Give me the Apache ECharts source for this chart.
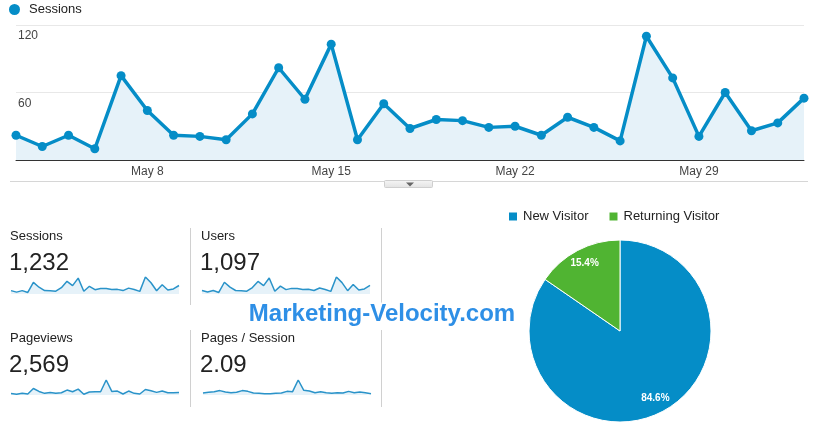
<!DOCTYPE html>
<html>
<head>
    <meta charset="utf-8">
    <title>Audience Overview</title>
    <script src="https://cdn.jsdelivr.net/npm/echarts@6/dist/echarts.min.js"></script>
    <style>
        html, body { margin: 0; padding: 0; background: #fff; }
    </style>
</head>
<body>
<div id="main" style="width: 813px;height:427px;"></div>
<script type="text/javascript">
    // daily data, May 3 - Jun 2
    var days = ['May 3', 'May 4', 'May 5', 'May 6', 'May 7', 'May 8', 'May 9', 'May 10',
        'May 11', 'May 12', 'May 13', 'May 14', 'May 15', 'May 16', 'May 17', 'May 18',
        'May 19', 'May 20', 'May 21', 'May 22', 'May 23', 'May 24', 'May 25', 'May 26',
        'May 27', 'May 28', 'May 29', 'May 30', 'May 31', 'Jun 1', 'Jun 2'];
    var sessions = [22, 12, 22, 10, 75, 44, 22, 21, 18, 41, 82, 54, 103, 18, 50, 28,
        36, 35, 29, 30, 22, 38, 29, 17, 110, 73, 21, 60, 26, 33, 55];
    var users = [20, 11, 20, 9, 67, 39, 20, 19, 16, 37, 72, 48, 91, 16, 45, 25,
        32, 31, 26, 27, 20, 34, 26, 15, 97, 65, 19, 54, 23, 29, 49];
    var pageviews = [40, 18, 42, 25, 165, 90, 42, 66, 42, 58, 125, 83, 150, 18, 75, 83,
        83, 380, 91, 100, 25, 100, 42, 25, 140, 108, 66, 100, 58, 58, 66];
    var pagesPerSession = [1.3, 1.8, 2.2, 2.9, 2.0, 1.5, 1.8, 2.9, 2.4, 1.3, 1.1, 0.9, 0.9, 1.1, 1.3, 2.4,
        2.2, 9.9, 3.1, 2.6, 1.5, 2.2, 1.5, 1.1, 1.5, 1.3, 2.4, 1.5, 2.0, 1.5, 0.9];

    var kpiNames = ['Sessions', 'Users', 'Pageviews', 'Pages / Session'];
    var kpiValues = ['1,232', '1,097', '2,569', '2.09'];

    var visitorTypes = ['New Visitor', 'Returning Visitor'];
    var visitorShare = [84.6, 15.4];

    var BLUE = '#058dc7';
    var GREEN = '#50b432';
    var FILL = '#e6f2f9';
    var FONT = 'Arial, "Liberation Sans", Helvetica, sans-serif';

    var myChart = echarts.init(document.getElementById('main'));

    // sparkline boxes: [left, top, height]
    var sparkBoxes = [[11, 277, 17], [202, 277, 17], [11, 380, 15], [203, 380, 15]];
    var sparkData = [sessions, users, pageviews, pagesPerSession];

    var grids = [{left: 16, right: 9, top: 25, height: 135}];
    var xAxes = [{
        type: 'category',
        gridIndex: 0,
        data: days,
        boundaryGap: false,
        axisTick: {show: false},
        axisLine: {lineStyle: {color: '#333', width: 1}},
        axisLabel: {
            interval: function (i) { return i % 7 === 5; },
            color: '#444', fontSize: 12, fontFamily: FONT, margin: 6
        }
    }];
    var yAxes = [{
        type: 'value',
        gridIndex: 0,
        min: 0, max: 120, interval: 60,
        axisLine: {show: false},
        axisTick: {show: false},
        splitLine: {lineStyle: {color: '#e8e8e8'}},
        axisLabel: {
            inside: true, showMinLabel: false, margin: 2,
            verticalAlign: 'top', padding: [5, 0, 0, 0],
            color: '#444', fontSize: 12, fontFamily: FONT
        }
    }];
    var series = [{
        name: 'Sessions',
        type: 'line',
        xAxisIndex: 0, yAxisIndex: 0,
        data: sessions,
        symbol: 'circle',
        symbolSize: 9,
        itemStyle: {color: BLUE},
        lineStyle: {color: BLUE, width: 3.5},
        areaStyle: {color: FILL, opacity: 1}
    }];

    sparkBoxes.forEach(function (b, i) {
        grids.push({left: b[0], width: 168, top: b[1], height: b[2]});
        xAxes.push({type: 'category', gridIndex: i + 1, data: days, boundaryGap: false, show: false});
        yAxes.push({type: 'value', gridIndex: i + 1, min: 0, max: 'dataMax', show: false, splitLine: {show: false}});
        series.push({
            name: kpiNames[i] + ' trend',
            type: 'line',
            xAxisIndex: i + 1, yAxisIndex: i + 1,
            data: sparkData[i],
            symbol: 'none',
            silent: true,
            lineStyle: {color: '#2a93c9', width: 1.5},
            areaStyle: {color: FILL, opacity: 1}
        });
    });

    var pieData = visitorTypes.map(function (n, i) {
        return {name: n, value: visitorShare[i], itemStyle: {color: i === 0 ? BLUE : GREEN}};
    });

    series.push({
        name: 'Visitor type',
        type: 'pie',
        center: [620, 331],
        radius: 91,
        startAngle: 90,
        clockwise: true,
        label: {show: false},
        labelLine: {show: false},
        itemStyle: {borderColor: '#fff', borderWidth: 1},
        data: pieData
    });
    // transparent ring only used to place the percent labels further out
    series.push({
        name: 'Visitor type labels',
        type: 'pie',
        center: [620, 331],
        radius: [55, 91],
        startAngle: 90,
        clockwise: true,
        silent: true,
        emphasis: {disabled: true},
        itemStyle: {color: 'rgba(0,0,0,0)'},
        label: {
            show: true, position: 'inside',
            formatter: '{c}%',
            color: '#fff', fontSize: 10, fontWeight: 'bold', fontFamily: FONT
        },
        labelLine: {show: false},
        data: visitorTypes.map(function (n, i) { return {name: n, value: visitorShare[i]}; })
    });

    // KPI texts and panel dividers
    var kpiPos = [[10, 230], [201, 230], [10, 332], [201, 332]];
    var graphics = [];
    kpiPos.forEach(function (p, i) {
        graphics.push({
            type: 'text', left: p[0], top: p[1],
            style: {text: kpiNames[i], fill: '#222', font: '13px ' + FONT}
        });
        graphics.push({
            type: 'text', left: p[0] - 1, top: p[1] + 21,
            style: {text: kpiValues[i], fill: '#222', font: '24px ' + FONT}
        });
    });
    [[190, 228], [381, 228], [190, 330], [381, 330]].forEach(function (p) {
        graphics.push({
            type: 'line', silent: true,
            shape: {x1: p[0] + 0.5, y1: p[1], x2: p[0] + 0.5, y2: p[1] + 77},
            style: {stroke: '#d0d0d0', lineWidth: 1}
        });
    });
    // divider under the timeline with the collapse button
    graphics.push({
        type: 'line', silent: true,
        shape: {x1: 10, y1: 181.5, x2: 808, y2: 181.5},
        style: {stroke: '#d6d6d6', lineWidth: 1}
    });
    graphics.push({
        type: 'rect', silent: true,
        shape: {x: 384.5, y: 180.5, width: 48, height: 7, r: 1},
        style: {
            fill: new echarts.graphic.LinearGradient(0, 0, 0, 1, [
                {offset: 0, color: '#f6f6f6'}, {offset: 1, color: '#e2e2e2'}
            ]),
            stroke: '#cfcfcf', lineWidth: 1
        }
    });
    graphics.push({
        type: 'polygon', silent: true,
        shape: {points: [[406, 182.5], [414, 182.5], [410, 186.5]]},
        style: {fill: '#666'}
    });
    // watermark
    graphics.push({
        type: 'text', x: 382, y: 314, z: 100, silent: true,
        style: {
            text: 'Marketing-Velocity.com',
            align: 'center', verticalAlign: 'middle',
            fill: '#2e8fe6', font: 'bold 24px ' + FONT,
            stroke: '#fff', lineWidth: 3,
            shadowColor: 'rgba(0,0,0,0.4)', shadowBlur: 3, shadowOffsetY: 1
        }
    });

    myChart.setOption({
        animation: false,
        textStyle: {fontFamily: FONT},
        legend: [{
            data: ['Sessions'],
            left: 9, top: 3, padding: 0,
            icon: 'circle',
            itemWidth: 19, itemHeight: 11,
            selectedMode: false,
            textStyle: {color: '#222', fontSize: 13, fontFamily: FONT}
        }, {
            data: visitorTypes,
            left: 507, top: 210, padding: 0,
            icon: 'rect',
            itemWidth: 10, itemHeight: 10, itemGap: 19,
            selectedMode: false,
            textStyle: {color: '#222', fontSize: 13, fontFamily: FONT}
        }],
        grid: grids,
        xAxis: xAxes,
        yAxis: yAxes,
        series: series,
        graphic: graphics
    });
</script>
</body>
</html>
